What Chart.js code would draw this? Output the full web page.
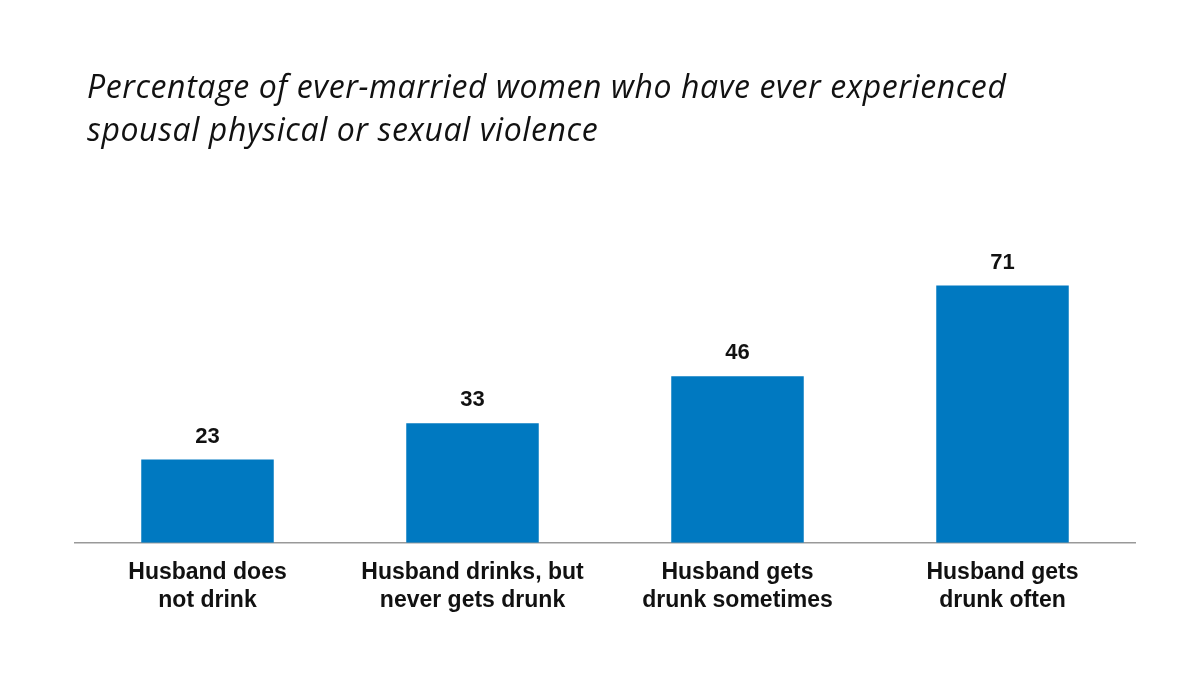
<!DOCTYPE html>
<html><head><meta charset="utf-8">
<script src="https://cdn.jsdelivr.net/npm/chart.js@4"></script>
<style>
html,body{margin:0;padding:0;background:#fff;width:1200px;height:675px;overflow:hidden;}
#t{position:absolute;left:87px;top:64px;font-family:"Open Sans","Liberation Sans",sans-serif;font-style:italic;font-size:32px;letter-spacing:0.6px;line-height:43px;color:#111;white-space:nowrap;}
#w{position:absolute;left:0;top:0;width:1200px;height:675px;}
</style></head><body>
<div id="w"><canvas id="c" width="1200" height="675"></canvas></div>
<div id="t">Percentage of ever-married women who have ever experienced<br>spousal physical or sexual violence</div>
<script>
const categories = [["Husband does","not drink"],["Husband drinks, but","never gets drunk"],["Husband gets","drunk sometimes"],["Husband gets","drunk often"]];
const values = [23,33,46,71];
const labelPlugin = {id:'lbl',afterDatasetsDraw(ch){const ctx=ch.ctx;const m=ch.getDatasetMeta(0);ctx.save();ctx.font='bold 22px "Liberation Sans", Arial, sans-serif';ctx.fillStyle='#111';ctx.textAlign='center';ctx.textBaseline='bottom';m.data.forEach((b,i)=>ctx.fillText(values[i],b.x,b.y-12));ctx.restore();}};
new Chart(document.getElementById('c'),{type:'bar',
data:{labels:categories,datasets:[{data:values,backgroundColor:'#0079c1',barPercentage:0.5,categoryPercentage:1}]},
options:{responsive:false,animation:false,events:[],
layout:{padding:{left:75,right:65,top:253,bottom:45}},
plugins:{legend:{display:false},tooltip:{enabled:false}},
scales:{y:{display:false,min:0,max:80},
x:{grid:{display:false,drawTicks:false},border:{color:'#999',width:1.5},ticks:{padding:16,color:'#111',font:{family:'"Liberation Sans", Arial, sans-serif',weight:'bold',size:23,lineHeight:1.2},maxRotation:0,autoSkip:false}}}},
plugins:[labelPlugin]});
</script></body></html>
